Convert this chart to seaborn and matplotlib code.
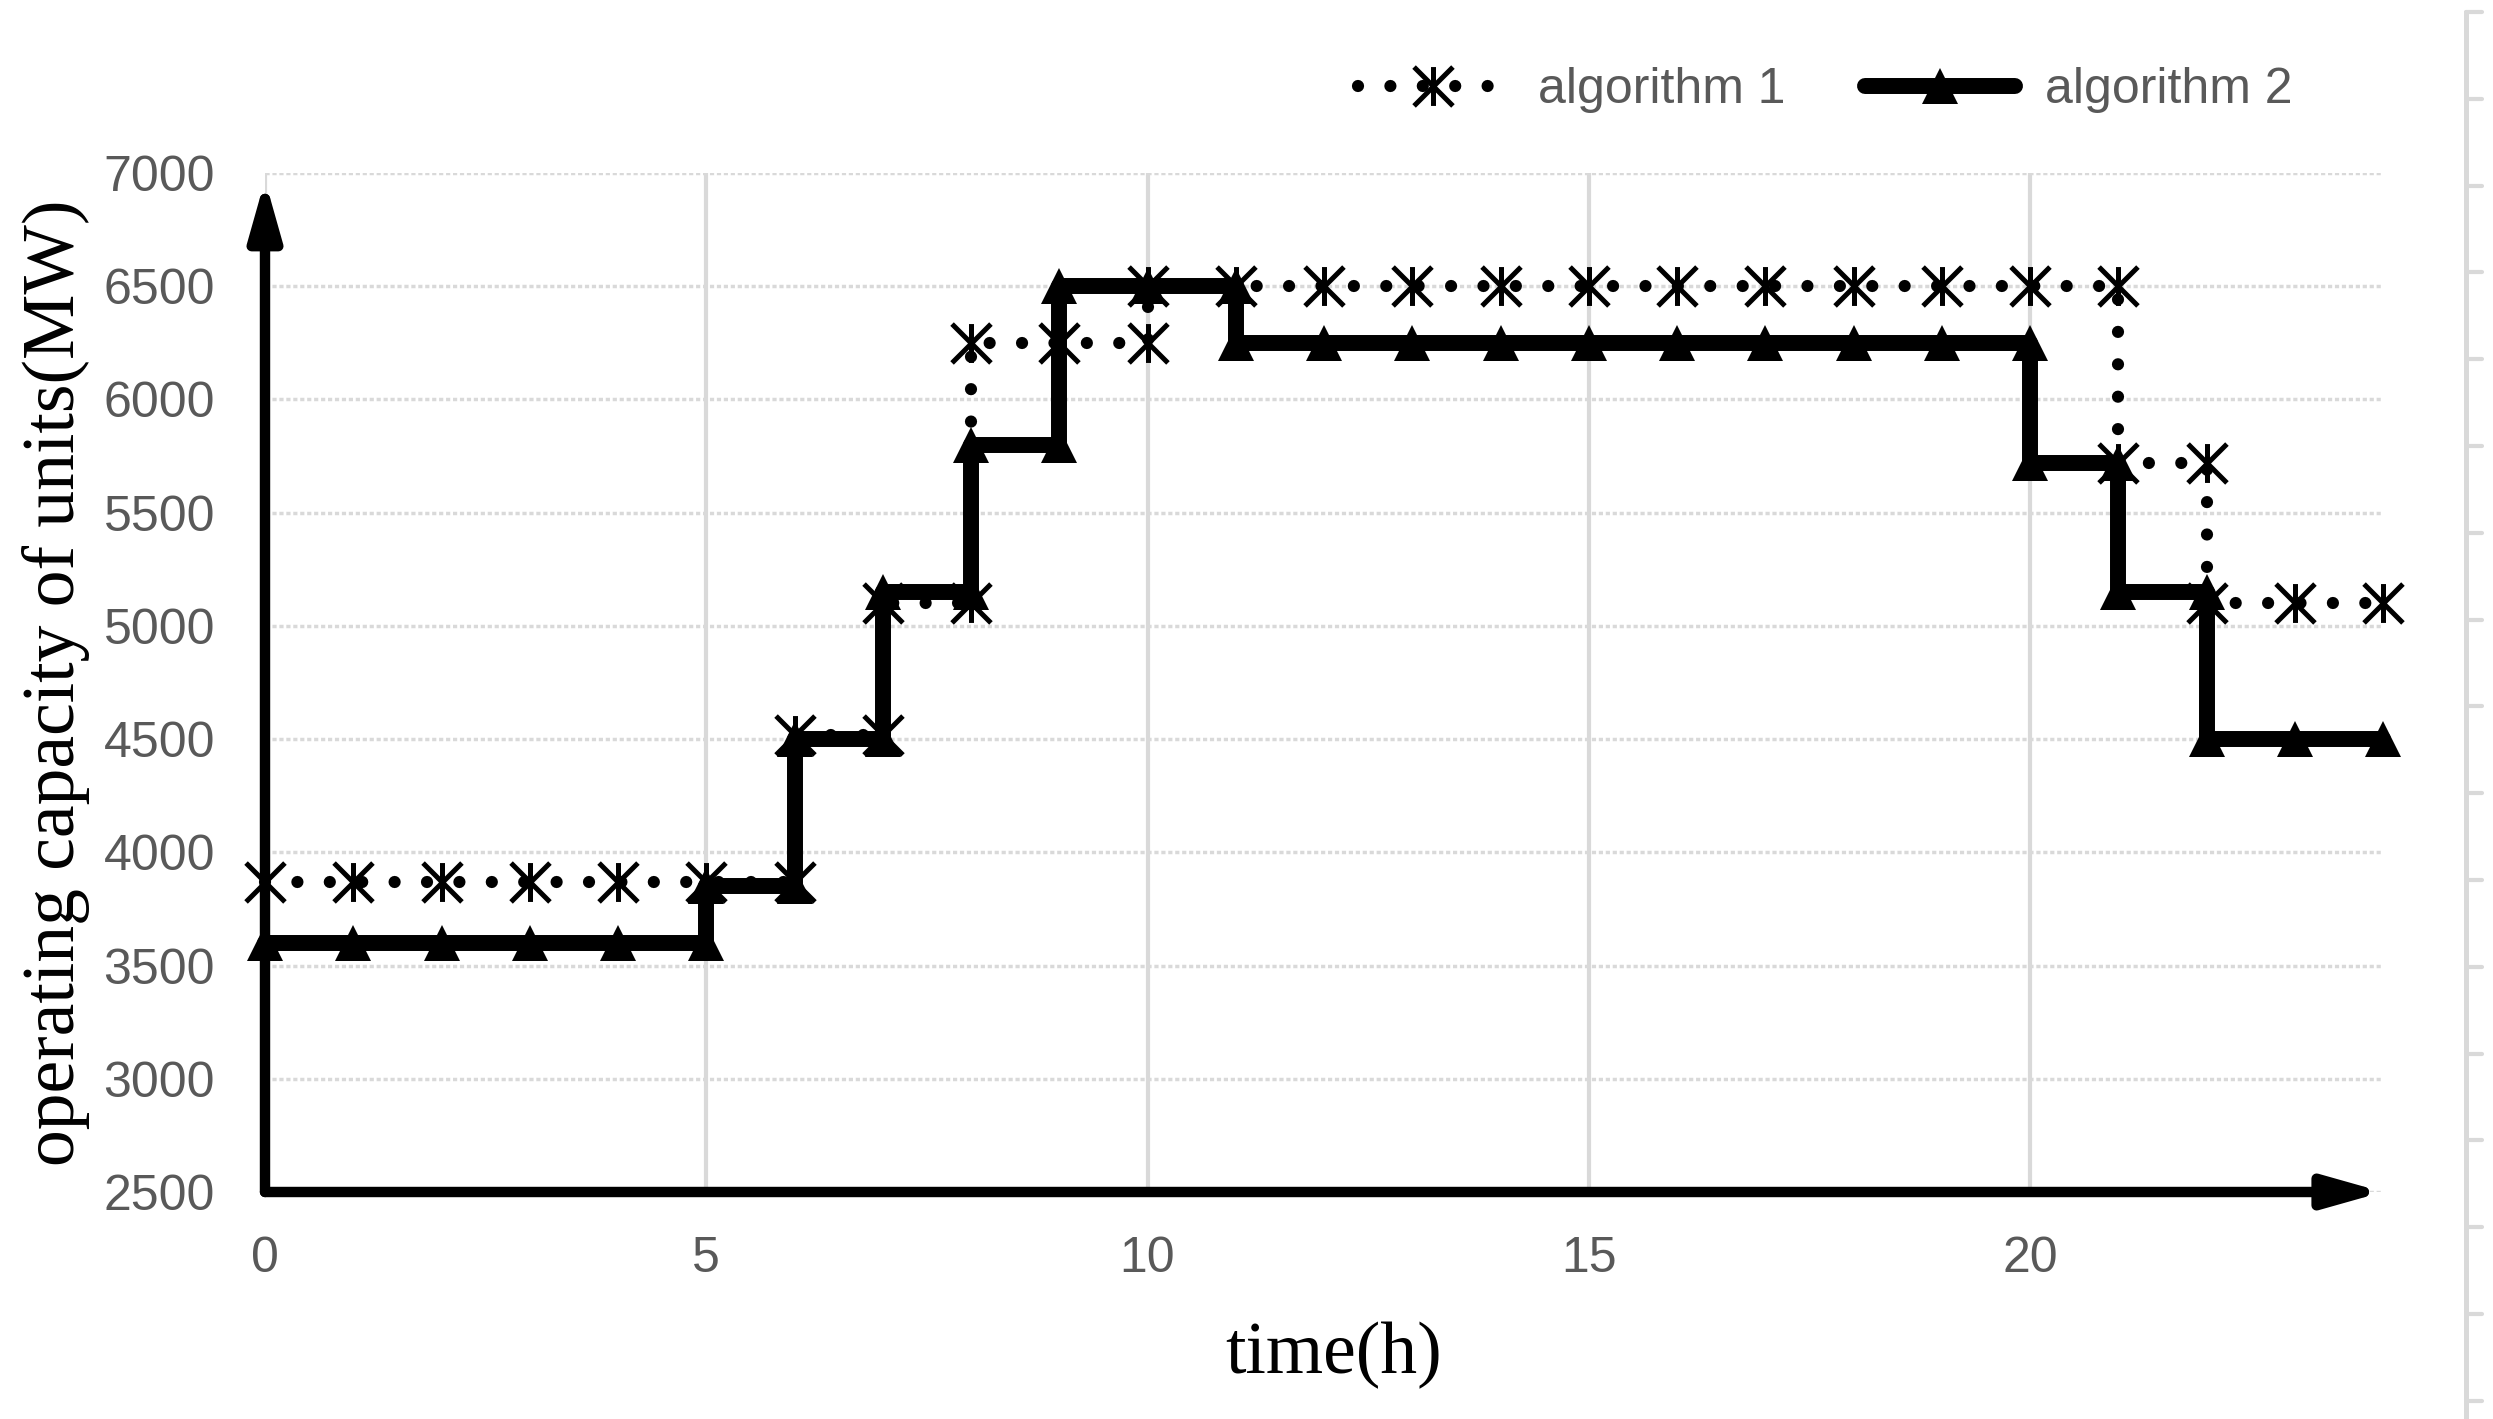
import matplotlib
matplotlib.use("Agg")
import matplotlib.pyplot as plt
from matplotlib.path import Path
from matplotlib.lines import Line2D
import seaborn as sns

# algorithm 1 - hourly points, a repeated hour makes the vertical step
hours_alg1 = [0, 1, 2, 3, 4, 5, 6, 6, 7, 7, 8, 8, 9, 10, 10, 11, 12, 13, 14, 15,
              16, 17, 18, 19, 20, 21, 21, 22, 22, 23, 24]
cap_alg1 = [3870, 3870, 3870, 3870, 3870, 3870, 3870, 4520, 4520, 5100, 5100,
            6250, 6250, 6250, 6500, 6500, 6500, 6500, 6500, 6500, 6500, 6500,
            6500, 6500, 6500, 6500, 5720, 5720, 5100, 5100, 5100]

# algorithm 2
hours_alg2 = [0, 1, 2, 3, 4, 5, 5, 6, 6, 7, 7, 8, 8, 9, 9, 10, 11, 11, 12, 13,
              14, 15, 16, 17, 18, 19, 20, 20, 21, 21, 22, 22, 23, 24]
cap_alg2 = [3600, 3600, 3600, 3600, 3600, 3600, 3850, 3850, 4500, 4500, 5150,
            5150, 5800, 5800, 6500, 6500, 6500, 6250, 6250, 6250, 6250, 6250,
            6250, 6250, 6250, 6250, 6250, 5720, 5720, 5150, 5150, 4500, 4500,
            4500]

series_names = ["algorithm 1", "algorithm 2"]
x_ticks = [0, 5, 10, 15, 20]
y_ticks = [2500, 3000, 3500, 4000, 4500, 5000, 5500, 6000, 6500, 7000]

sns.set_theme(style="white")
plt.rcParams["font.family"] = ["Liberation Sans", "DejaVu Sans"]

W, H = 2493, 1419
fig = plt.figure(figsize=(W / 100, H / 100), dpi=100)
ax = fig.add_axes([265 / W, 1 - 1192 / H, (2383 - 265) / W, (1192 - 173) / H])

# excel style "star" marker: vertical bar plus an X
star = Path([(0, -1), (0, 1), (-1, -1), (1, 1), (-1, 1), (1, -1)],
            [Path.MOVETO, Path.LINETO, Path.MOVETO, Path.LINETO,
             Path.MOVETO, Path.LINETO])

sns.lineplot(x=hours_alg1, y=cap_alg1, ax=ax, estimator=None, sort=False,
             color="black", linewidth=8.8, linestyle=(0, (0.001, 2.65)),
             dash_capstyle="round", marker=star, markersize=28,
             markeredgewidth=3.6, markeredgecolor="black",
             markerfacecolor="black", label=series_names[0], legend=False,
             zorder=4, clip_on=False)
sns.lineplot(x=hours_alg2, y=cap_alg2, ax=ax, estimator=None, sort=False,
             color="black", linewidth=11.5, linestyle="-", marker="^",
             markersize=26.5, markeredgewidth=0, markeredgecolor="black",
             markerfacecolor="black", label=series_names[1], legend=False,
             zorder=5, clip_on=False)

ax.set_xlim(0, 24)
ax.set_ylim(2500, 7000)
ax.set_xticks(x_ticks)
ax.set_yticks(y_ticks)
for s in ax.spines.values():
    s.set_visible(False)

ax.tick_params(axis="both", length=0, labelsize=36, labelcolor="#595959")
ax.tick_params(axis="y", pad=36)
ax.tick_params(axis="x", pad=32)

ax.set_axisbelow(True)
ax.yaxis.grid(True, color="#d9d9d9", linewidth=2.5, linestyle=(0, (1.2, 0.8)))
ax.xaxis.grid(True, color="#d9d9d9", linewidth=3, linestyle="-")

# axes drawn as arrows
arrow_kw = dict(arrowstyle="-|>,head_length=0.85,head_width=0.24",
                color="black", lw=7.5, shrinkA=0, shrinkB=0, mutation_scale=40)
ax.annotate("", xy=(24, 2500), xytext=(0, 2500), arrowprops=arrow_kw,
            annotation_clip=False, zorder=6)
ax.annotate("", xy=(0, 6970), xytext=(0, 2500), arrowprops=arrow_kw,
            annotation_clip=False, zorder=6)

ax.set_xlabel("time(h)", fontsize=53, family="Liberation Serif", color="black")
ax.set_ylabel("operating capacity of units(MW)", fontsize=53,
              family="Liberation Serif", color="black")
ax.xaxis.set_label_coords(0.5047, -0.16)
ax.xaxis.label.set_va("center")
ax.yaxis.set_label_coords(-0.0987, 0.4995)
ax.yaxis.label.set_va("center")

handles, labels = ax.get_legend_handles_labels()
fig.legend(handles, labels, loc="center", bbox_to_anchor=(1825 / W, 1 - 90 / H),
           ncol=2, frameon=False, fontsize=36, labelcolor="#595959",
           handlelength=3.0, handletextpad=0.6, columnspacing=1.6,
           borderpad=0)

# neighbouring chart's axis that is cut off at the right edge
gx = 2466 / W
fig.add_artist(Line2D([gx, gx], [1 - 12 / H, 0], transform=fig.transFigure,
                      color="#d9d9d9", linewidth=3.6))
ty = 12.0
while ty < H:
    fig.add_artist(Line2D([gx, 2482 / W], [1 - ty / H, 1 - ty / H],
                          transform=fig.transFigure, color="#d9d9d9",
                          linewidth=3))
    ty += 86.8

fig.savefig("out.png", dpi=100)
